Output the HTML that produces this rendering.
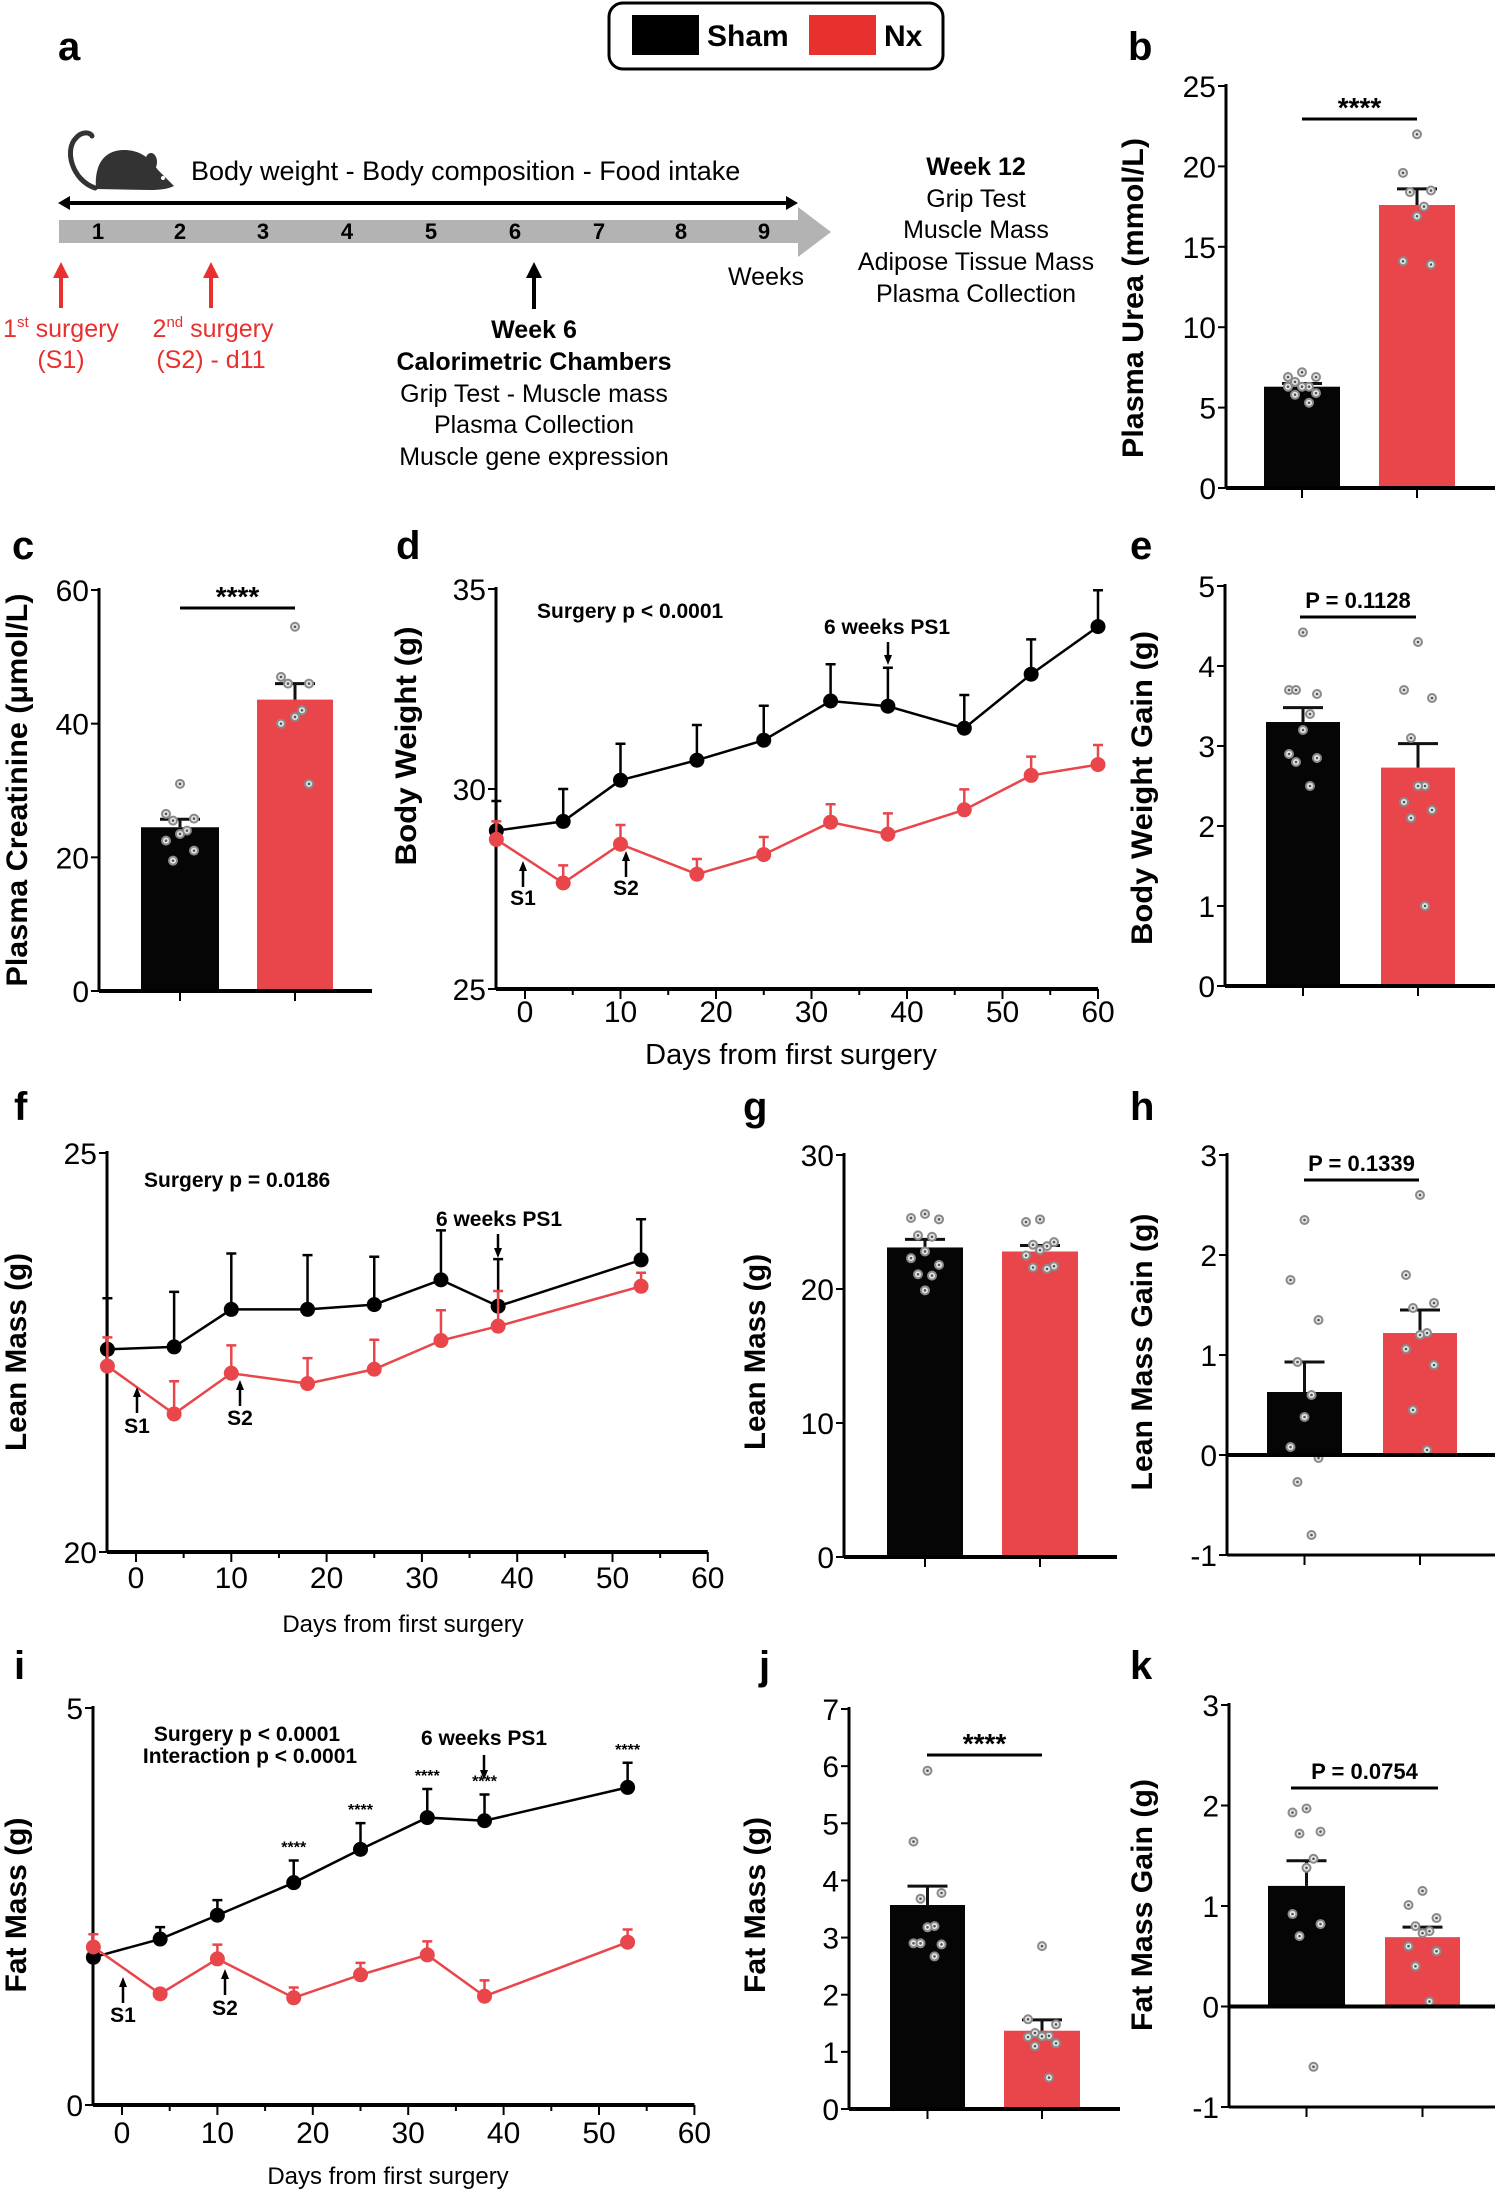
<!DOCTYPE html>
<html><head><meta charset="utf-8"><style>
html,body{margin:0;padding:0;background:#fff;}
svg{display:block;font-family:"Liberation Sans",sans-serif;}
</style></head><body>
<svg id="fig" width="1500" height="2193" viewBox="0 0 1500 2193" xmlns="http://www.w3.org/2000/svg">
<defs>
<marker id="ah" markerUnits="userSpaceOnUse" markerWidth="10" markerHeight="10" refX="5" refY="5" orient="auto"><path d="M0,1 L10,5 L0,9 z" fill="#000"/></marker>
</defs>
<g>
<rect x="609" y="3" width="334" height="66" rx="14" fill="#fff" stroke="#000" stroke-width="3"/>
<rect x="632" y="15" width="67" height="40" fill="#000"/>
<text x="707" y="46" font-size="30" font-weight="bold">Sham</text>
<rect x="809" y="15" width="67" height="40" fill="#e8302e"/>
<text x="884" y="46" font-size="30" font-weight="bold">Nx</text>
</g>
<g font-size="40" font-weight="bold">
<text x="58" y="60">a</text>
<text x="1128" y="60">b</text>
<text x="12" y="559">c</text>
<text x="396" y="559">d</text>
<text x="1130" y="559">e</text>
<text x="14" y="1120">f</text>
<text x="743" y="1120">g</text>
<text x="1130" y="1120">h</text>
<text x="14" y="1679">i</text>
<text x="759" y="1679">j</text>
<text x="1130" y="1679">k</text>
</g>
<g>
<g fill="#333">
<path d="M95,188 C72,180 64,150 76,138 C82,131 90,132 92,136" stroke="#333" stroke-width="5" fill="none" stroke-linecap="round"/>
<path d="M96,189 C94,162 106,150 124,150 C140,150 150,158 158,170 L174,186 C168,189 160,190 150,190 Z"/>
<ellipse cx="151" cy="162" rx="6" ry="9"/>
<circle cx="163" cy="178" r="2" fill="#fff"/>
</g>
<text x="191" y="180" font-size="27">Body weight - Body composition - Food intake</text>
<line x1="66" y1="203" x2="790" y2="203" stroke="#000" stroke-width="4"/>
<path d="M58,203 L70,196 L70,210 Z M798,203 L786,196 L786,210 Z" fill="#000"/>
<path d="M59,220 L798,220 L798,207 L831,232 L798,257 L798,243 L59,243 Z" fill="#b3b3b3"/>
<g font-size="22" font-weight="bold" text-anchor="middle">
<text x="98" y="239">1</text><text x="180" y="239">2</text><text x="263" y="239">3</text><text x="347" y="239">4</text><text x="431" y="239">5</text><text x="515" y="239">6</text><text x="599" y="239">7</text><text x="681" y="239">8</text><text x="764" y="239">9</text>
</g>
<text x="766" y="285" font-size="25" text-anchor="middle">Weeks</text>
<g stroke="#e8302e" fill="#e8302e">
<line x1="61" y1="308" x2="61" y2="275" stroke-width="4"/><path d="M53,278 L61,262 L69,278 Z" stroke="none"/>
<line x1="211" y1="308" x2="211" y2="275" stroke-width="4"/><path d="M203,278 L211,262 L219,278 Z" stroke="none"/>
</g>
<g font-size="25" fill="#e8302e" text-anchor="middle">
<text x="61" y="337">1<tspan font-size="15" dy="-10">st</tspan><tspan dy="10"> surgery</tspan></text>
<text x="61" y="368">(S1)</text>
<text x="213" y="337">2<tspan font-size="15" dy="-10">nd</tspan><tspan dy="10"> surgery</tspan></text>
<text x="211" y="368">(S2) - d11</text>
</g>
<line x1="534" y1="309" x2="534" y2="275" stroke="#000" stroke-width="4"/><path d="M526,278 L534,262 L542,278 Z" fill="#000"/>
<g font-size="25" text-anchor="middle">
<text x="534" y="338" font-weight="bold">Week 6</text>
<text x="534" y="370" font-weight="bold">Calorimetric Chambers</text>
<text x="534" y="402">Grip Test - Muscle mass</text>
<text x="534" y="433">Plasma Collection</text>
<text x="534" y="465">Muscle gene expression</text>
</g>
<g font-size="25" text-anchor="middle">
<text x="976" y="175" font-weight="bold">Week 12</text>
<text x="976" y="207">Grip Test</text>
<text x="976" y="238">Muscle Mass</text>
<text x="976" y="270">Adipose Tissue Mass</text>
<text x="976" y="302">Plasma Collection</text>
</g>
</g>
</svg>
<script>
const groups = ["Sham", "Nx"];
const bMeans = [6.3, 17.6];
const bSem = [0.2, 1.0];
const bShamDots = [7.2, 6.9, 6.9, 6.6, 6.3, 6.3, 6.3, 5.9, 5.8, 5.3];
const bNxDots = [22.0, 19.6, 18.5, 18.4, 17.5, 16.9, 14.1, 13.9];
const cMeans = [24.5, 43.6];
const cSem = [1.2, 2.4];
const cShamDots = [31.0, 26.5, 25.8, 25.5, 24.0, 23.5, 22.5, 21.0, 19.5];
const cNxDots = [54.5, 47.0, 46.0, 46.0, 42.0, 41.0, 40.0, 31.0];
const eMeans = [3.3, 2.73];
const eSem = [0.18, 0.3];
const eShamDots = [4.42, 3.7, 3.65, 3.7, 3.4, 3.2, 2.9, 2.85, 2.8, 2.5];
const eNxDots = [4.3, 3.7, 3.6, 3.1, 2.5, 2.5, 2.3, 2.2, 2.1, 1.0];
const gMeans = [23.1, 22.8];
const gSem = [0.6, 0.45];
const gShamDots = [25.6, 25.3, 25.2, 24.0, 23.9, 22.8, 22.3, 21.8, 21.1, 21.0, 19.9];
const gNxDots = [25.2, 25.0, 23.5, 23.3, 23.2, 22.9, 22.5, 21.7, 21.6, 21.5];
const hMeans = [0.63, 1.22];
const hSem = [0.3, 0.23];
const hShamDots = [2.35, 1.75, 1.35, 0.93, 0.6, 0.38, 0.08, -0.03, -0.27, -0.8];
const hNxDots = [2.6, 1.8, 1.52, 1.47, 1.22, 1.2, 1.06, 0.9, 0.45, 0.05];
const jMeans = [3.57, 1.37];
const jSem = [0.33, 0.19];
const jShamDots = [5.92, 4.68, 3.78, 3.68, 3.2, 3.18, 2.9, 2.88, 2.9, 2.67];
const jNxDots = [2.85, 1.57, 1.48, 1.33, 1.28, 1.27, 1.26, 1.15, 1.1, 0.55];
const kMeans = [1.2, 0.69];
const kSem = [0.25, 0.1];
const kShamDots = [1.97, 1.93, 1.74, 1.72, 1.47, 1.38, 0.92, 0.82, 0.7, -0.6];
const kNxDots = [1.15, 1.01, 0.88, 0.8, 0.75, 0.73, 0.6, 0.55, 0.4, 0.05];
const dDays = [-3, 4, 10, 18, 25, 32, 38, 46, 53, 60];
const dSham = [28.96, 29.19, 30.22, 30.72, 31.22, 32.2, 32.07, 31.52, 32.87, 34.06];
const dShamSem = [0.74, 0.81, 0.91, 0.88, 0.86, 0.92, 0.96, 0.83, 0.87, 0.91];
const dNx = [28.74, 27.65, 28.62, 27.87, 28.36, 29.17, 28.87, 29.48, 30.34, 30.61];
const dNxSem = [0.45, 0.44, 0.48, 0.38, 0.44, 0.45, 0.52, 0.51, 0.47, 0.49];
const fDays = [-3, 4, 10, 18, 25, 32, 38, 53];
const fSham = [22.54, 22.57, 23.04, 23.04, 23.1, 23.41, 23.08, 23.66];
const fShamSem = [0.64, 0.69, 0.7, 0.68, 0.6, 0.62, 0.59, 0.51];
const fNx = [22.33, 21.73, 22.24, 22.11, 22.29, 22.65, 22.83, 23.33];
const fNxSem = [0.36, 0.41, 0.35, 0.32, 0.37, 0.38, 0.44, 0.17];
const iDays = [-3, 4, 10, 18, 25, 32, 38, 53];
const iSham = [1.86, 2.09, 2.39, 2.8, 3.22, 3.62, 3.58, 4.0];
const iShamSem = [0.15, 0.15, 0.19, 0.28, 0.33, 0.36, 0.33, 0.31];
const iNx = [1.99, 1.4, 1.84, 1.35, 1.64, 1.89, 1.37, 2.05];
const iNxSem = [0.16, 0.02, 0.18, 0.13, 0.15, 0.17, 0.2, 0.16];
const iStars = ["", "", "", "****", "****", "****", "****", "****"];
const xTicks = [0, 10, 20, 30, 40, 50, 60];

const NS = "http://www.w3.org/2000/svg";
const svg = document.getElementById("fig");
const RED = "#e8464a";
function el(tag, attrs, parent) {
  const e = document.createElementNS(NS, tag);
  for (const k in attrs) e.setAttribute(k, attrs[k]);
  (parent || svg).appendChild(e);
  return e;
}
function txt(x, y, s, attrs, parent) {
  const t = el("text", Object.assign({x: x, y: y}, attrs || {}), parent);
  t.textContent = s;
  return t;
}
function scale(min, max, pxMin, pxMax) {
  return v => pxMin + (v - min) / (max - min) * (pxMax - pxMin);
}
const jit = [0, -14, 14, -7, 7, 0, -14, 14, -7, 7, 0];

function yAxis(g, ax, y, ticks, top, bot) {
  const a = el("line", {x1: ax, y1: top, x2: ax, y2: bot, stroke: "#000", "stroke-width": 3}, g);
  
  
  ticks.forEach(v => {
    el("line", {x1: ax - 8, y1: y(v), x2: ax, y2: y(v), stroke: "#000", "stroke-width": 2}, g);
    const t = txt(ax - 10, y(v) + 11, String(v), {"font-size": 30, "text-anchor": "end"}, g);
    
    
  });
}
function yTitle(g, cx, cy, s, len) {
  const t = txt(0, 0, s, {"font-size": 30, "font-weight": "bold", "text-anchor": "middle",
    transform: "translate(" + cx + "," + cy + ") rotate(-90)", textLength: len, lengthAdjust: "spacingAndGlyphs"}, g);
  
  
}

function barPanel(name, cfg, means, sems, shamDots, nxDots) {
  const g = el("g", {});
  
  
  const y = scale(cfg.min, cfg.max, cfg.bot, cfg.top);
  yAxis(g, cfg.ax, y, cfg.ticks, cfg.top - 2, cfg.bot);
  const colors = ["#050505", RED];
  const dotsArr = [shamDots, nxDots];
  means.forEach((m, i) => {
    const x0 = cfg.bars[i][0], x1 = cfg.bars[i][1];
    const yz = y(0), ym = y(m);
    const b = el("rect", {x: x0, y: Math.min(yz, ym), width: x1 - x0, height: Math.abs(yz - ym), fill: colors[i]}, g);
    
    
    const cx = (x0 + x1) / 2;
    const e = el("path", {d: "M" + cx + "," + ym + " V" + y(m + sems[i]) + " M" + (cx - 20) + "," + y(m + sems[i]) + " H" + (cx + 20), stroke: "#111", "stroke-width": 3, fill: "none"}, g);
    
    
    dotsArr[i].forEach((v, k) => {
      const d = el("circle", {cx: cx + jit[k % jit.length], cy: y(v), r: 4, fill: "#e6e6e6", stroke: "#8a8a8a", "stroke-width": 2}, g);
      
      
      el("circle", {cx: cx + jit[k % jit.length], cy: y(v), r: 1.3, fill: "#555"}, g);
    });
    el("line", {x1: cx, y1: cfg.bot, x2: cx, y2: cfg.bot + 10, stroke: "#000", "stroke-width": 2}, g);
  });
  const base = el("line", {x1: cfg.ax, y1: y(0), x2: cfg.end, y2: y(0), stroke: "#000", "stroke-width": 4}, g);
  
  
  if (cfg.min < 0) el("line", {x1: cfg.ax, y1: cfg.bot, x2: cfg.end, y2: cfg.bot, stroke: "#000", "stroke-width": 3}, g);
  if (cfg.sig) {
    const ln = el("line", {x1: cfg.sig[0], y1: cfg.sig[1], x2: cfg.sig[2], y2: cfg.sig[1], stroke: "#000", "stroke-width": 3}, g);
    
    
    const st = txt((cfg.sig[0] + cfg.sig[2]) / 2, cfg.sig[1] - (cfg.sigText[0] === "*" ? 2 : 9), cfg.sigText,
      {"font-size": cfg.sigText[0] === "*" ? 28 : 22, "font-weight": "bold", "text-anchor": "middle"}, g);
    
    
  }
  yTitle(g, cfg.tx, cfg.ty, cfg.title, cfg.tlen);
}

function linePanel(name, cfg, days, sham, shamSem, nx, nxSem, stars) {
  const g = el("g", {});
  
  
  const y = scale(cfg.min, cfg.max, cfg.bot, cfg.top);
  const x = d => cfg.x0 + d * cfg.ppd;
  yAxis(g, cfg.ax, y, cfg.ticks, cfg.top - 2, cfg.bot);
  const xa = el("line", {x1: cfg.ax, y1: cfg.bot, x2: x(60), y2: cfg.bot, stroke: "#000", "stroke-width": 4}, g);
  
  
  for (let d = 0; d <= 60; d += 5) el("line", {x1: x(d), y1: cfg.bot, x2: x(d), y2: cfg.bot + (d % 10 ? 6 : 10), stroke: "#000", "stroke-width": 2}, g);
  xTicks.forEach(d => {
    const t = txt(x(d), cfg.tickY, String(d), {"font-size": 30, "text-anchor": "middle"}, g);
    
    
  });
  const xl = txt(cfg.xlX, cfg.xlY, "Days from first surgery", {"font-size": cfg.xlSize, "text-anchor": "middle"}, g);
  
  
  [[sham, shamSem, "#000", "sham"], [nx, nxSem, RED, "nx"]].forEach(([vals, sems, col, key]) => {
    const pts = vals.map((v, i) => x(days[i]) + "," + y(v)).join(" ");
    const pl = el("polyline", {points: pts, fill: "none", stroke: col, "stroke-width": 2.5}, g);
    
    
    vals.forEach((v, i) => {
      const px = x(days[i]);
      const e = el("path", {d: "M" + px + "," + y(v) + " V" + y(v + sems[i]) + " M" + (px - 5) + "," + y(v + sems[i]) + " H" + (px + 5), stroke: col, "stroke-width": 2.5, fill: "none"}, g);
      
      
      const c = el("circle", {cx: px, cy: y(v), r: 7.5, fill: col}, g);
      
      
      if (stars && key === "sham" && stars[i]) {
        const s = txt(px, y(v + sems[i]) - 8, stars[i], {"font-size": 16, "font-weight": "bold", "text-anchor": "middle"}, g);
        
        
      }
    });
  });
  cfg.texts.forEach(tt => {
    const t = txt(tt[0], tt[1], tt[2], {"font-size": 21, "font-weight": "bold", "text-anchor": tt[3] || "start"}, g);
    
    
  });
  cfg.arrows.forEach(a => {
    const ar = el("line", {x1: a[0], y1: a[1], x2: a[0], y2: a[2], stroke: "#000", "stroke-width": 2.5, "marker-end": "url(#ah)"}, g);
    
    
  });
  yTitle(g, cfg.tx, cfg.ty, cfg.title, cfg.tlen);
}

barPanel("panel-b-plasma-urea", {ax: 1226, top: 86, bot: 488, min: 0, max: 25, ticks: [0, 5, 10, 15, 20, 25], bars: [[1264, 1340], [1379, 1455]], end: 1495,
  sig: [1302, 119, 1417], sigText: "****", tx: 1143, ty: 298, title: "Plasma Urea (mmol/L)", tlen: 320}, bMeans, bSem, bShamDots, bNxDots);
barPanel("panel-c-plasma-creatinine", {ax: 99, top: 590, bot: 991, min: 0, max: 60, ticks: [0, 20, 40, 60], bars: [[141, 219], [257, 333]], end: 372,
  sig: [180, 608, 295], sigText: "****", tx: 27, ty: 790, title: "Plasma Creatinine (μmol/L)", tlen: 393}, cMeans, cSem, cShamDots, cNxDots);
barPanel("panel-e-body-weight-gain", {ax: 1225, top: 586, bot: 986, min: 0, max: 5, ticks: [0, 1, 2, 3, 4, 5], bars: [[1266, 1340], [1381, 1455]], end: 1495,
  sig: [1300, 617, 1416], sigText: "P = 0.1128", tx: 1152, ty: 788, title: "Body Weight Gain (g)", tlen: 314}, eMeans, eSem, eShamDots, eNxDots);
barPanel("panel-g-lean-mass", {ax: 844, top: 1155, bot: 1557, min: 0, max: 30, ticks: [0, 10, 20, 30], bars: [[887, 963], [1002, 1078]], end: 1117,
  sig: null, tx: 765, ty: 1352, title: "Lean Mass (g)", tlen: 196}, gMeans, gSem, gShamDots, gNxDots);
barPanel("panel-h-lean-mass-gain", {ax: 1227, top: 1155, bot: 1555, min: -1, max: 3, ticks: [-1, 0, 1, 2, 3], bars: [[1267, 1342], [1383, 1457]], end: 1495,
  sig: [1304, 1180, 1419], sigText: "P = 0.1339", tx: 1152, ty: 1352, title: "Lean Mass Gain (g)", tlen: 277}, hMeans, hSem, hShamDots, hNxDots);
barPanel("panel-j-fat-mass", {ax: 849, top: 1709, bot: 2109, min: 0, max: 7, ticks: [0, 1, 2, 3, 4, 5, 6, 7], bars: [[890, 965], [1004, 1080]], end: 1120,
  sig: [927, 1755, 1042], sigText: "****", tx: 765, ty: 1905, title: "Fat Mass (g)", tlen: 176}, jMeans, jSem, jShamDots, jNxDots);
barPanel("panel-k-fat-mass-gain", {ax: 1229, top: 1705, bot: 2107, min: -1, max: 3, ticks: [-1, 0, 1, 2, 3], bars: [[1268, 1345], [1385, 1460]], end: 1495,
  sig: [1291, 1788, 1438], sigText: "P = 0.0754", tx: 1152, ty: 1905, title: "Fat Mass Gain (g)", tlen: 252}, kMeans, kSem, kShamDots, kNxDots);

linePanel("panel-d-body-weight", {ax: 496, top: 589, bot: 989, min: 25, max: 35, ticks: [25, 30, 35], x0: 525, ppd: 9.55, tickY: 1022, xlX: 791, xlY: 1064, xlSize: 29,
  texts: [[537, 618, "Surgery p < 0.0001"], [887, 634, "6 weeks PS1", "middle"], [523, 905, "S1", "middle"], [626, 895, "S2", "middle"]],
  arrows: [[888, 642, 660], [523, 887, 866], [626, 877, 856]],
  tx: 416, ty: 746, title: "Body Weight (g)", tlen: 239}, dDays, dSham, dShamSem, dNx, dNxSem, null);
linePanel("panel-f-lean-mass", {ax: 107, top: 1153, bot: 1552, min: 20, max: 25, ticks: [20, 25], x0: 136, ppd: 9.53, tickY: 1588, xlX: 403, xlY: 1632, xlSize: 24,
  texts: [[144, 1187, "Surgery p = 0.0186"], [499, 1226, "6 weeks PS1", "middle"], [137, 1433, "S1", "middle"], [240, 1425, "S2", "middle"]],
  arrows: [[498, 1234, 1253], [137, 1413, 1392], [240, 1406, 1385]],
  tx: 26, ty: 1352, title: "Lean Mass (g)", tlen: 198}, fDays, fSham, fShamSem, fNx, fNxSem, null);
linePanel("panel-i-fat-mass", {ax: 93, top: 1708, bot: 2105, min: 0, max: 5, ticks: [0, 5], x0: 122, ppd: 9.54, tickY: 2143, xlX: 388, xlY: 2184, xlSize: 24,
  texts: [[247, 1741, "Surgery p < 0.0001", "middle"], [250, 1763, "Interaction p < 0.0001", "middle"], [484, 1745, "6 weeks PS1", "middle"], [123, 2022, "S1", "middle"], [225, 2015, "S2", "middle"]],
  arrows: [[484, 1755, 1775], [123, 2003, 1982], [225, 1995, 1974]],
  tx: 26, ty: 1905, title: "Fat Mass (g)", tlen: 175}, iDays, iSham, iShamSem, iNx, iNxSem, iStars);
</script>
</body></html>
